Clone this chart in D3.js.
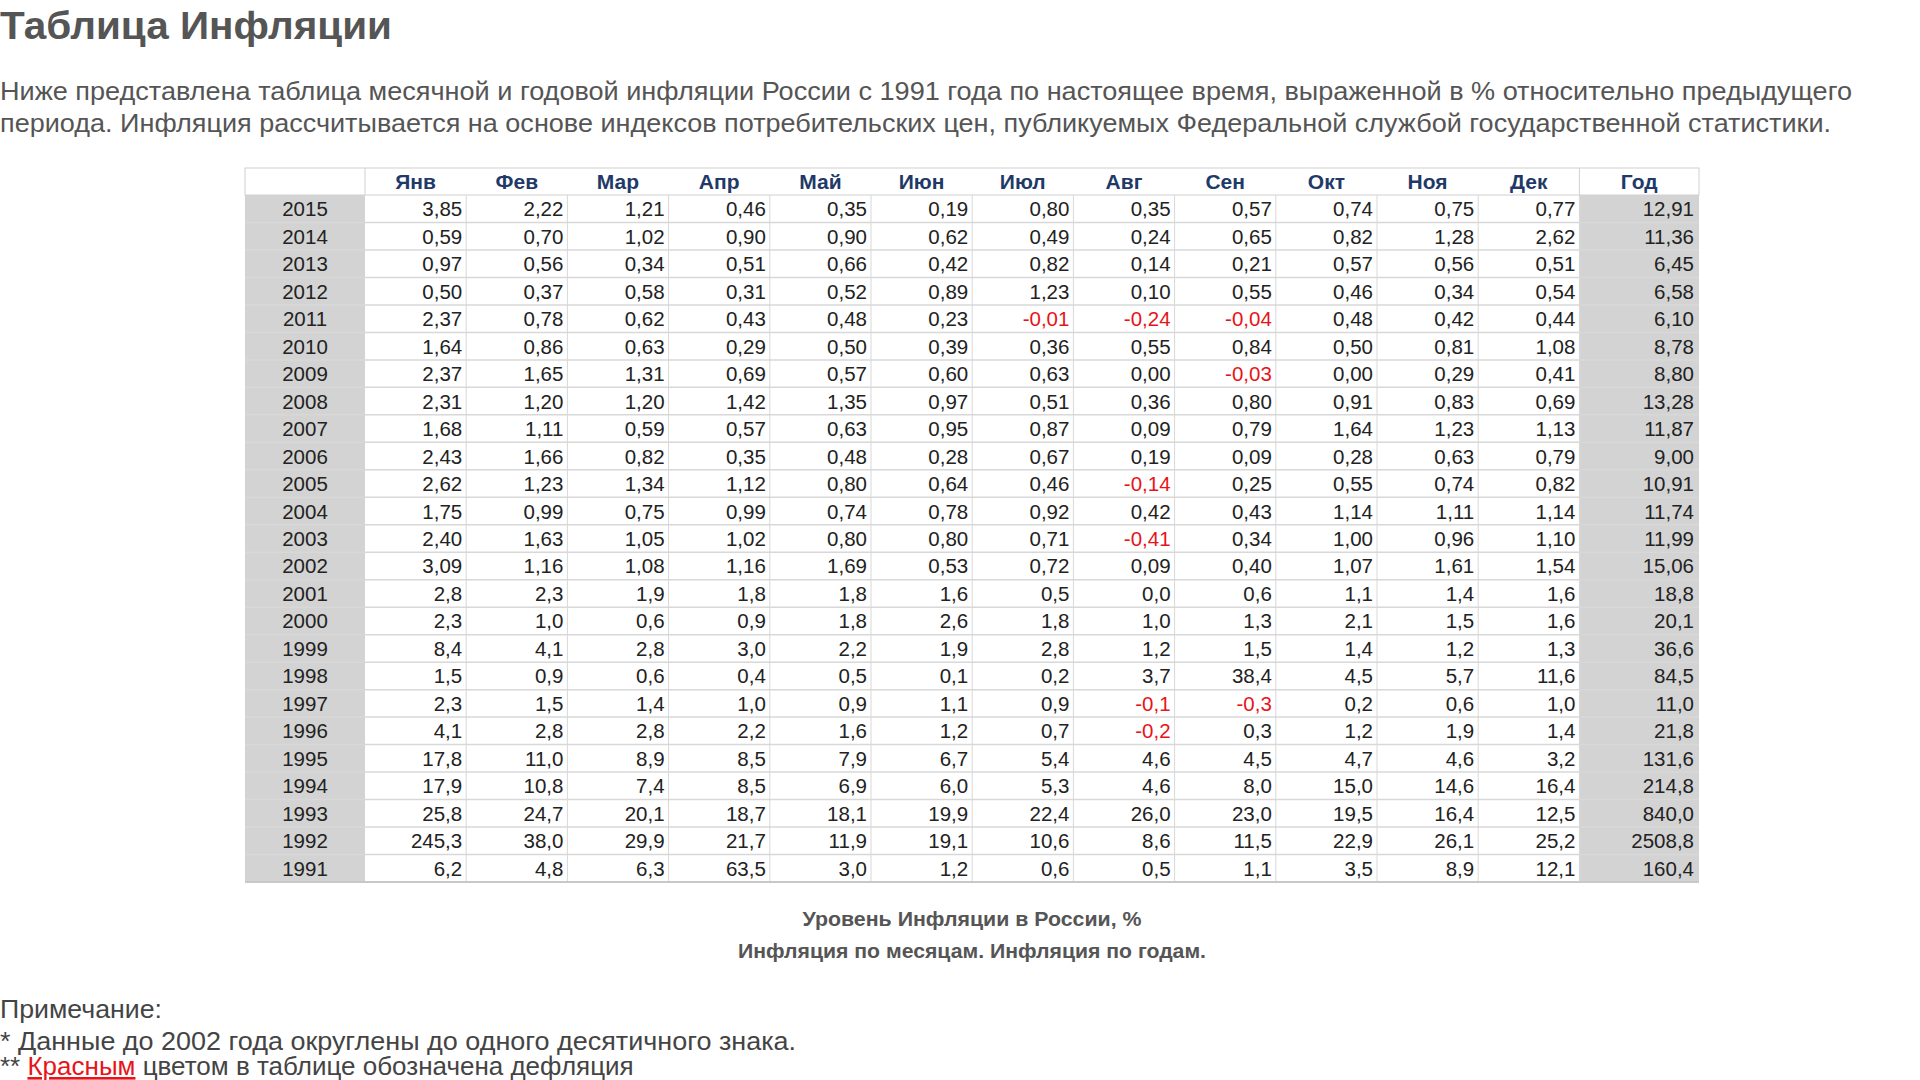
<!DOCTYPE html>
<html><head><meta charset="utf-8">
<script src="https://cdn.jsdelivr.net/npm/d3@7"></script>
<style>body{margin:0;background:#fff;}svg{display:block;}</style>
</head><body>
<script>
const months = ["Янв","Фев","Мар","Апр","Май","Июн","Июл","Авг","Сен","Окт","Ноя","Дек"];
const years = [2015,2014,2013,2012,2011,2010,2009,2008,2007,2006,2005,2004,2003,2002,2001,2000,1999,1998,1997,1996,1995,1994,1993,1992,1991];
const monthly = [
[3.85,2.22,1.21,0.46,0.35,0.19,0.80,0.35,0.57,0.74,0.75,0.77],
[0.59,0.70,1.02,0.90,0.90,0.62,0.49,0.24,0.65,0.82,1.28,2.62],
[0.97,0.56,0.34,0.51,0.66,0.42,0.82,0.14,0.21,0.57,0.56,0.51],
[0.50,0.37,0.58,0.31,0.52,0.89,1.23,0.10,0.55,0.46,0.34,0.54],
[2.37,0.78,0.62,0.43,0.48,0.23,-0.01,-0.24,-0.04,0.48,0.42,0.44],
[1.64,0.86,0.63,0.29,0.50,0.39,0.36,0.55,0.84,0.50,0.81,1.08],
[2.37,1.65,1.31,0.69,0.57,0.60,0.63,0.00,-0.03,0.00,0.29,0.41],
[2.31,1.20,1.20,1.42,1.35,0.97,0.51,0.36,0.80,0.91,0.83,0.69],
[1.68,1.11,0.59,0.57,0.63,0.95,0.87,0.09,0.79,1.64,1.23,1.13],
[2.43,1.66,0.82,0.35,0.48,0.28,0.67,0.19,0.09,0.28,0.63,0.79],
[2.62,1.23,1.34,1.12,0.80,0.64,0.46,-0.14,0.25,0.55,0.74,0.82],
[1.75,0.99,0.75,0.99,0.74,0.78,0.92,0.42,0.43,1.14,1.11,1.14],
[2.40,1.63,1.05,1.02,0.80,0.80,0.71,-0.41,0.34,1.00,0.96,1.10],
[3.09,1.16,1.08,1.16,1.69,0.53,0.72,0.09,0.40,1.07,1.61,1.54],
[2.8,2.3,1.9,1.8,1.8,1.6,0.5,0.0,0.6,1.1,1.4,1.6],
[2.3,1.0,0.6,0.9,1.8,2.6,1.8,1.0,1.3,2.1,1.5,1.6],
[8.4,4.1,2.8,3.0,2.2,1.9,2.8,1.2,1.5,1.4,1.2,1.3],
[1.5,0.9,0.6,0.4,0.5,0.1,0.2,3.7,38.4,4.5,5.7,11.6],
[2.3,1.5,1.4,1.0,0.9,1.1,0.9,-0.1,-0.3,0.2,0.6,1.0],
[4.1,2.8,2.8,2.2,1.6,1.2,0.7,-0.2,0.3,1.2,1.9,1.4],
[17.8,11.0,8.9,8.5,7.9,6.7,5.4,4.6,4.5,4.7,4.6,3.2],
[17.9,10.8,7.4,8.5,6.9,6.0,5.3,4.6,8.0,15.0,14.6,16.4],
[25.8,24.7,20.1,18.7,18.1,19.9,22.4,26.0,23.0,19.5,16.4,12.5],
[245.3,38.0,29.9,21.7,11.9,19.1,10.6,8.6,11.5,22.9,26.1,25.2],
[6.2,4.8,6.3,63.5,3.0,1.2,0.6,0.5,1.1,3.5,8.9,12.1]
];
const annual = [12.91,11.36,6.45,6.58,6.10,8.78,8.80,13.28,11.87,9.00,10.91,11.74,11.99,15.06,18.8,20.1,36.6,84.5,11.0,21.8,131.6,214.8,840.0,2508.8,160.4];

const fmt = (v, y) => v.toFixed(y >= 2002 ? 2 : 1).replace(".", ",");
const W = 1920, H = 1080;
const svg = d3.select("body").append("svg").attr("width", W).attr("height", H)
  .style("font-family", "Arial, 'Liberation Sans', sans-serif");

svg.append("text").attr("x", 0).attr("y", 39).attr("font-size", 39).attr("font-weight", "bold")
  .attr("fill", "#555").attr("textLength", 392).attr("lengthAdjust", "spacingAndGlyphs").text("Таблица Инфляции");
const para = ["Ниже представлена таблица месячной и годовой инфляции России с 1991 года по настоящее время, выраженной в % относительно предыдущего",
  "периода. Инфляция рассчитывается на основе индексов потребительских цен, публикуемых Федеральной службой государственной статистики."];
const paraLen = [1852, 1831];
para.forEach((t, i) => svg.append("text").attr("x", 0).attr("y", 100 + i * 32).attr("font-size", 25).attr("fill", "#555")
  .attr("textLength", paraLen[i]).attr("lengthAdjust", "spacingAndGlyphs").text(t));

const colEdges = [245, 365];
for (let i = 1; i <= 12; i++) colEdges.push(365 + i * 101.2);
colEdges.push(1699);
const x0 = i => colEdges[i], x1 = i => colEdges[i + 1];
const headTop = 168, headBot = 195, tableBot = 882;
const y = d3.scaleBand().domain(years).range([headBot, tableBot]);

const g = svg.append("g");
g.append("rect").attr("x", 245).attr("y", headTop).attr("width", 1699 - 245).attr("height", headBot - headTop)
  .attr("fill", "#fff").attr("stroke", "#d0d0d0");
g.selectAll(".hd").data(months).join("text")
  .attr("x", (d, i) => (x0(i + 1) + x1(i + 1)) / 2).attr("y", headBot - 6)
  .attr("text-anchor", "middle").attr("font-size", 21).attr("font-weight", "bold").attr("fill", "#1f3a68").text(d => d);
g.append("text").attr("x", (x0(13) + x1(13)) / 2).attr("y", headBot - 6).attr("text-anchor", "middle")
  .attr("font-size", 21).attr("font-weight", "bold").attr("fill", "#1f3a68").text("Год");
g.append("line").attr("x1", x0(1)).attr("x2", x0(1)).attr("y1", headTop).attr("y2", headBot).attr("stroke", "#d0d0d0");
g.append("line").attr("x1", x0(13)).attr("x2", x0(13)).attr("y1", headTop).attr("y2", headBot).attr("stroke", "#d0d0d0");

g.append("rect").attr("x", x0(0)).attr("y", headBot).attr("width", x1(0) - x0(0)).attr("height", tableBot - headBot).attr("fill", "#d3d3d3");
g.append("rect").attr("x", x0(13)).attr("y", headBot).attr("width", x1(13) - x0(13)).attr("height", tableBot - headBot).attr("fill", "#d3d3d3");

years.forEach(yr => {
  g.append("line").attr("x1", 245).attr("x2", 1699).attr("y1", y(yr) + y.bandwidth()).attr("y2", y(yr) + y.bandwidth())
    .attr("stroke", "#d8d8d8").attr("stroke-width", 1.5);
});
for (let i = 2; i <= 13; i++) {
  g.append("line").attr("x1", x0(i)).attr("x2", x0(i)).attr("y1", headBot).attr("y2", tableBot).attr("stroke", "#d8d8d8");
}
g.append("line").attr("x1", 245).attr("x2", 1699).attr("y1", tableBot).attr("y2", tableBot).attr("stroke", "#c8c8c8").attr("stroke-width", 2);

years.forEach((yr, r) => {
  const by = y(yr) + y.bandwidth() / 2 + 7.5;
  g.append("text").attr("x", (x0(0) + x1(0)) / 2).attr("y", by).attr("text-anchor", "middle")
    .attr("font-size", 20.5).attr("fill", "#222").text(yr);
  monthly[r].forEach((v, c) => {
    g.append("text").attr("x", x1(c + 1) - 4).attr("y", by).attr("text-anchor", "end")
      .attr("font-size", 20.5).attr("fill", v < 0 ? "#e8141a" : "#222").text(fmt(v, yr));
  });
  g.append("text").attr("x", x1(13) - 5).attr("y", by).attr("text-anchor", "end")
    .attr("font-size", 20.5).attr("fill", "#222").text(fmt(annual[r], yr));
});

const cap = ["Уровень Инфляции в России, %", "Инфляция по месяцам. Инфляция по годам."];
const capLen = [339, 468];
cap.forEach((t, i) =>
  svg.append("text").attr("x", 972).attr("y", 926 + i * 32).attr("text-anchor", "middle")
    .attr("font-size", 20).attr("font-weight", "bold").attr("fill", "#555")
    .attr("textLength", capLen[i]).attr("lengthAdjust", "spacingAndGlyphs").text(t));

svg.append("text").attr("x", 0).attr("y", 1018).attr("font-size", 26).attr("fill", "#444")
  .attr("textLength", 162).attr("lengthAdjust", "spacingAndGlyphs").text("Примечание:");
svg.append("text").attr("x", 0).attr("y", 1050).attr("font-size", 26).attr("fill", "#444")
  .attr("textLength", 796).attr("lengthAdjust", "spacingAndGlyphs").text("* Данные до 2002 года округлены до одного десятичного знака.");
const n3 = svg.append("text").attr("x", 0).attr("y", 1075).attr("font-size", 26).attr("fill", "#444");
n3.append("tspan").text("** ");
n3.append("tspan").attr("fill", "#e8141a").attr("text-decoration", "underline").text("Красным");
n3.append("tspan").text(" цветом в таблице обозначена дефляция");
</script>
</body></html>
